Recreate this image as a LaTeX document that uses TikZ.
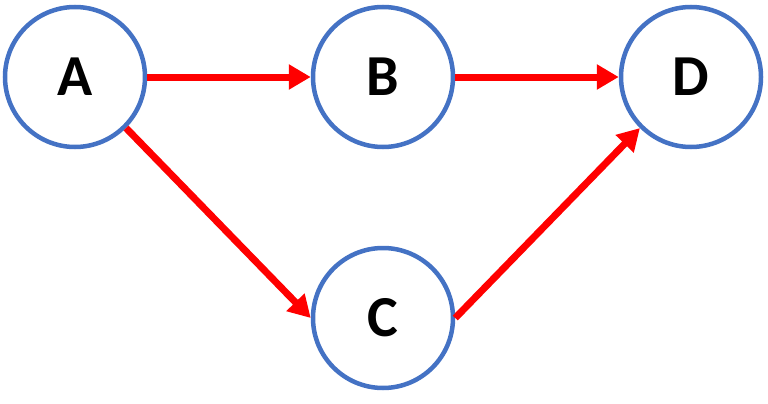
\documentclass[tikz,border=0pt]{standalone}
\usepackage{fontspec}
\setmainfont{Carlito}
\usetikzlibrary{arrows.meta}
\definecolor{cblue}{RGB}{68,114,196}
\begin{document}
\begin{tikzpicture}[x=1pt,y=-1pt,
  vert/.style={circle,draw=cblue,line width=4.5pt,minimum size=140pt,inner sep=0pt,font=\fontsize{58}{60}\selectfont\bfseries,fill=white},
  edge/.style={draw=red,line width=7pt,-{Triangle[length=22pt,width=24pt]}}]
\useasboundingbox (0,0) rectangle (768,404);
\node[vert] (A) at (75,77) {A};
\node[vert] (B) at (383,77) {B};
\node[vert] (D) at (691,77) {D};
\node[vert] (C) at (383,318) {C};
\draw[edge] (A) -- (B);
\draw[edge] (B) -- (D);
\draw[edge] (A.-45) -- (C.west);
\draw[edge] (C.east) -- (D.-135);
\end{tikzpicture}
\end{document}
